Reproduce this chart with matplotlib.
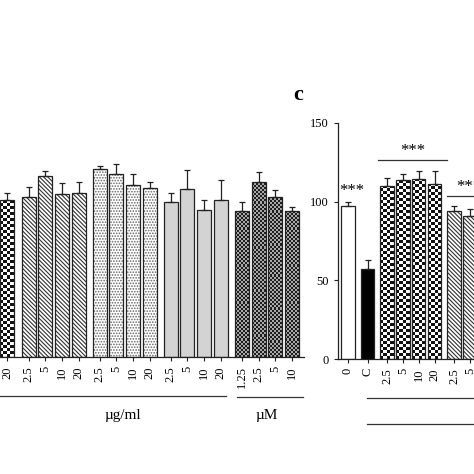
import numpy as np
import matplotlib
matplotlib.use("Agg")
import matplotlib.pyplot as plt
from matplotlib.colors import ListedColormap
from matplotlib.transforms import blended_transform_factory

plt.rcParams["font.family"] = ["Liberation Serif", "DejaVu Serif"]
plt.rcParams["hatch.linewidth"] = 0.8

# panel b (only its right part is in view)
b_labels = ["20", "2.5", "5", "10", "20", "2.5", "5", "10", "20",
            "2.5", "5", "10", "20", "1.25", "2.5", "5", "10"]
b_groups = [0, 1, 1, 1, 1, 2, 2, 2, 2, 3, 3, 3, 3, 4, 4, 4, 4]
b_means = [99.5, 101.5, 115, 103.5, 104.5, 119.5, 116.5, 109, 107.5,
           98.5, 107, 93.5, 99.5, 92.5, 111.5, 102, 92.5]
b_err = [4.5, 6.5, 3, 7, 7, 2, 6, 7, 3.5, 6, 12, 6, 13, 6, 6, 4, 3]
b_styles = ["checker", "stripe", "dots", "gray", "fine"]

# panel c
c_labels = ["0", "C", "2.5", "5", "10", "20", "2.5", "5"]
c_groups = [0, 1, 2, 2, 2, 2, 3, 3]
c_means = [97.5, 57, 110, 113.5, 114.5, 111.5, 94, 91]
c_err = [2.3, 6, 5, 4, 5, 8, 3.5, 4.5]
c_styles = ["white", "black", "checker", "stripe"]

EDGE = "#222222"


def checker(ax, bar, cx, cy, dark, light):
    x0, w, h = bar.get_x(), bar.get_width(), bar.get_height()
    nx = max(1, int(round(w / cx)))
    ny = max(1, int(round(h / cy)))
    grid = np.add.outer(np.arange(ny), np.arange(nx)) % 2
    im = ax.imshow(grid, cmap=ListedColormap([dark, light]), extent=(x0, x0 + w, 0, h),
                   aspect="auto", interpolation="nearest", origin="lower", zorder=1)
    im.set_clip_path(bar)


def draw_bars(ax, means, err, groups, styles, gap, width=0.84):
    pos = np.arange(len(means)) + np.array(groups) * gap
    for p, m, g in zip(pos, means, groups):
        st = styles[g]
        if st == "checker":
            b = ax.bar(p, m, width, facecolor="none", edgecolor=EDGE, lw=0.9, zorder=2)[0]
            checker(ax, b, 0.19, 1.9, "#111111", "#ffffff")
        elif st == "fine":
            b = ax.bar(p, m, width, facecolor="none", edgecolor=EDGE, lw=0.9, zorder=2)[0]
            checker(ax, b, 0.125, 1.3, "#1e1e1e", "#a8a8a8")
        elif st == "stripe":
            ax.bar(p, m, width, facecolor="white", edgecolor="#333333", lw=0,
                   hatch="\\" * 8, zorder=1)
            ax.bar(p, m, width, facecolor="none", edgecolor=EDGE, lw=0.9, zorder=2)
        elif st == "dots":
            ax.bar(p, m, width, facecolor="white", edgecolor="#666666", lw=0,
                   hatch="......", zorder=1)
            ax.bar(p, m, width, facecolor="none", edgecolor=EDGE, lw=0.9, zorder=2)
        elif st == "gray":
            ax.bar(p, m, width, facecolor="#d3d3d3", edgecolor=EDGE, lw=0.9, zorder=2)
        elif st == "white":
            ax.bar(p, m, width, facecolor="white", edgecolor=EDGE, lw=0.9, zorder=2)
        else:
            ax.bar(p, m, width, facecolor="black", edgecolor=EDGE, lw=0.9, zorder=2)
    ax.errorbar(pos, means, yerr=[np.zeros(len(err)), err], fmt="none", ecolor=EDGE,
                elinewidth=0.9, capsize=2.4, capthick=0.9, zorder=3)
    return pos


def style_axes(ax, labels, pos):
    for s in ["top", "right"]:
        ax.spines[s].set_visible(False)
    for s in ["left", "bottom"]:
        ax.spines[s].set_linewidth(0.9)
        ax.spines[s].set_color(EDGE)
    ax.set_xticks(pos)
    ax.set_xticklabels(labels, rotation=90)
    ax.tick_params(direction="out", length=3, width=0.8, labelsize=9, colors=EDGE,
                   labelcolor="black")
    ax.set_ylim(0, 150)


fig = plt.figure(figsize=(4.74, 4.74), dpi=100)

# panel b
axb = fig.add_axes([0.0, 0.2468, 0.6414, 0.498])
pb = draw_bars(axb, b_means, b_err, b_groups, b_styles, gap=0.28)
style_axes(axb, b_labels, pb)
axb.spines["left"].set_visible(False)
axb.set_yticks([])
axb.set_xlim(-0.45, 17.86)
tb = blended_transform_factory(axb.transData, axb.transAxes)
axb.plot([-0.45, 13.16], [-0.165, -0.165], color="#333333", lw=0.9,
         transform=tb, clip_on=False)
axb.plot([13.8, 17.78], [-0.17, -0.17], color="#333333", lw=0.9,
         transform=tb, clip_on=False)
axb.text(6.96, -0.246, "µg/ml", transform=tb, ha="center", va="center", fontsize=11)
axb.text(15.63, -0.246, "µM", transform=tb, ha="center", va="center", fontsize=11)

# panel c
axc = fig.add_axes([0.7124, 0.2426, 0.2876, 0.498])
pc = draw_bars(axc, c_means, c_err, c_groups, c_styles, gap=0.24)
style_axes(axc, c_labels, pc)
axc.set_yticks([0, 50, 100, 150])
axc.set_xlim(-0.65, 7.98)

axc.text(pc[0] + 0.25, 106.5, "***", ha="center", va="center", fontsize=12)
chk = pc[2:6]
axc.plot([chk[0] - 0.57, chk[-1] + 0.77], [126.5, 126.5], color="#333333", lw=0.9)
axc.text(chk.mean() + 0.1, 132, "***", ha="center", va="center", fontsize=12)
hat = pc[6:8]
axc.plot([hat[0] - 0.42, 9], [103.8, 103.8], color="#333333", lw=0.9, clip_on=False)
axc.text(hat[0] + 0.15, 109.5, "***", ha="left", va="center", fontsize=12)

tc = blended_transform_factory(axc.transData, axc.transAxes)
for yy in [-0.1665, -0.277]:
    axc.plot([1.185, 9], [yy, yy], color="#333333", lw=0.9, transform=tc, clip_on=False)

fig.text(298 / 474, 1 - 95 / 474, "c", fontsize=16, fontweight="bold",
         ha="center", va="center")

fig.savefig("out.png", dpi=100)
